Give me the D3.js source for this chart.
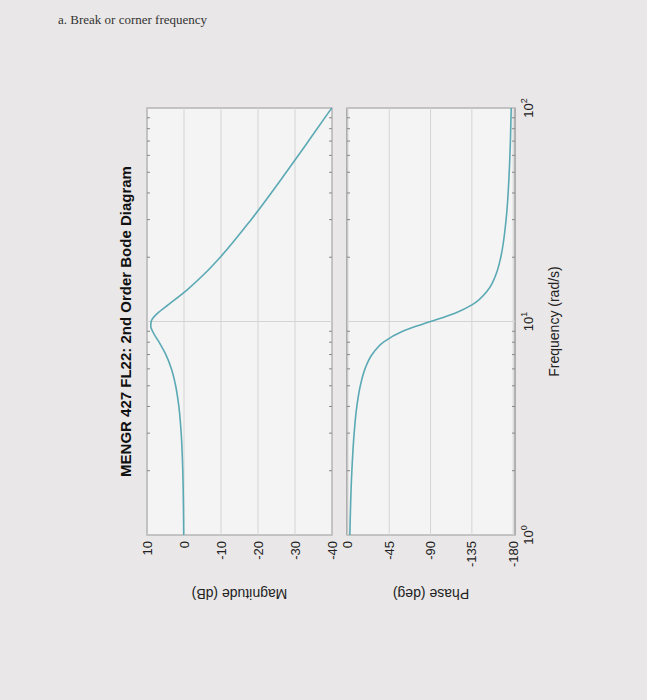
<!DOCTYPE html>
<html>
<head>
<meta charset="utf-8">
<script src="https://cdn.jsdelivr.net/npm/d3@7"></script>
<style>
  body { margin: 0; background: #e9e7e7; }
  svg { display: block; }
</style>
</head>
<body>
<div id="chart"></div>
<script>
// values
const freqs = [1, 2, 3, 4, 5, 6, 7, 8, 9, 9.5, 10, 11, 12, 14, 17, 20, 30, 50, 70, 100];
const magnitude = [0.08, 0.33, 0.76, 1.39, 2.26, 3.41, 4.9, 6.73, 8.5, 8.98, 8.87, 6.97, 4.2, -0.7, -5.96, -9.79, -18.14, -27.63, -33.64, -39.92];
const phase = [-2.1, -4.3, -6.8, -9.7, -13.5, -18.6, -26.3, -38.7, -59.6, -74.1, -90, -117.9, -135.5, -152.3, -162.1, -166.5, -172.3, -175.7, -177, -177.9];
const magTicks = [10, 0, -10, -20, -30, -40];
const phaseTicks = [0, -45, -90, -135, -180];
const freqTicks = [1, 10, 100];

const width = 647, height = 700;
const W = 427, magH = 185, phTop = 200, phH = 168;

const svg = d3.select('#chart').append('svg')
  .attr('width', width).attr('height', height);

svg.append('text').attr('x', 58).attr('y', 24)
  .attr('font-family', 'Liberation Serif').attr('font-size', 13).attr('fill', '#333')
  .text('a.   Break or corner frequency');

// whole figure is rotated a quarter turn in the photo
const g = svg.append('g').attr('transform', 'translate(147,535) rotate(-90)');

const x = d3.scaleLog().domain([1, 100]).range([0, W]);
const yMag = d3.scaleLinear().domain([-40, 10]).range([magH, 0]);
const yPh = d3.scaleLinear().domain([-182, 1]).range([phTop + phH, phTop]);

const minor = [];
[1, 10].forEach(d => { for (let k = 2; k < 10; k++) minor.push(d * k); });

function panel(y, top, h, ticks) {
  g.append('rect').attr('x', 0).attr('y', top).attr('width', W).attr('height', h)
    .attr('fill', '#f4f4f4').attr('stroke', '#777').attr('stroke-width', 1);
  g.append('g').selectAll('line').data(ticks).join('line')
    .attr('x1', 0).attr('x2', W).attr('y1', d => y(d)).attr('y2', d => y(d))
    .attr('stroke', '#d4d4d4');
  g.append('g').selectAll('line').data(freqTicks).join('line')
    .attr('x1', d => x(d)).attr('x2', d => x(d)).attr('y1', top).attr('y2', top + h)
    .attr('stroke', '#d4d4d4');
  g.append('g').selectAll('line').data(minor).join('line')
    .attr('x1', d => x(d)).attr('x2', d => x(d)).attr('y1', top + h).attr('y2', top + h - 3)
    .attr('stroke', '#888');
  g.append('g').selectAll('line').data(minor).join('line')
    .attr('x1', d => x(d)).attr('x2', d => x(d)).attr('y1', top).attr('y2', top + 3)
    .attr('stroke', '#888');
  g.append('g').selectAll('text').data(ticks).join('text')
    .attr('x', -6).attr('y', d => y(d)).attr('dy', '0.35em').attr('text-anchor', 'end')
    .attr('font-family', 'Liberation Sans').attr('font-size', 13).attr('fill', '#222')
    .text(d => d);
}
panel(yMag, 0, magH, magTicks);
panel(yPh, phTop, phH, phaseTicks);

const teal = '#5aa9b4';
g.append('path').datum(freqs.map((f, i) => [f, magnitude[i]]))
  .attr('fill', 'none').attr('stroke', teal).attr('stroke-width', 1.6)
  .attr('d', d3.line().x(d => x(d[0])).y(d => yMag(d[1])).curve(d3.curveMonotoneX));
g.append('path').datum(freqs.map((f, i) => [f, phase[i]]))
  .attr('fill', 'none').attr('stroke', teal).attr('stroke-width', 1.6)
  .attr('d', d3.line().x(d => x(d[0])).y(d => yPh(d[1])).curve(d3.curveMonotoneX));

// frequency tick labels
const ft = g.append('g').selectAll('text').data(freqTicks).join('text')
  .attr('x', d => x(d)).attr('y', phTop + phH + 18).attr('text-anchor', 'middle')
  .attr('font-family', 'Liberation Sans').attr('font-size', 13).attr('fill', '#222');
ft.append('tspan').text('10');
ft.append('tspan').attr('dy', -6).attr('font-size', 9).text(d => Math.log10(d));

g.append('text').attr('x', W / 2).attr('y', phTop + phH + 44).attr('text-anchor', 'middle')
  .attr('font-family', 'Liberation Sans').attr('font-size', 14).attr('fill', '#222')
  .text('Frequency  (rad/s)');

g.append('text').attr('x', W / 2).attr('y', -16).attr('text-anchor', 'middle')
  .attr('font-family', 'Liberation Sans').attr('font-weight', 'bold').attr('font-size', 15)
  .attr('fill', '#111').text('MENGR 427 FL22: 2nd Order Bode Diagram');

g.append('text').attr('transform', `translate(-54,${magH / 2}) rotate(-90)`)
  .attr('text-anchor', 'middle').attr('font-family', 'Liberation Sans').attr('font-size', 14)
  .attr('fill', '#222').text('Magnitude  (dB)');
g.append('text').attr('transform', `translate(-54,${phTop + phH / 2}) rotate(-90)`)
  .attr('text-anchor', 'middle').attr('font-family', 'Liberation Sans').attr('font-size', 14)
  .attr('fill', '#222').text('Phase  (deg)');
</script>
</body>
</html>
